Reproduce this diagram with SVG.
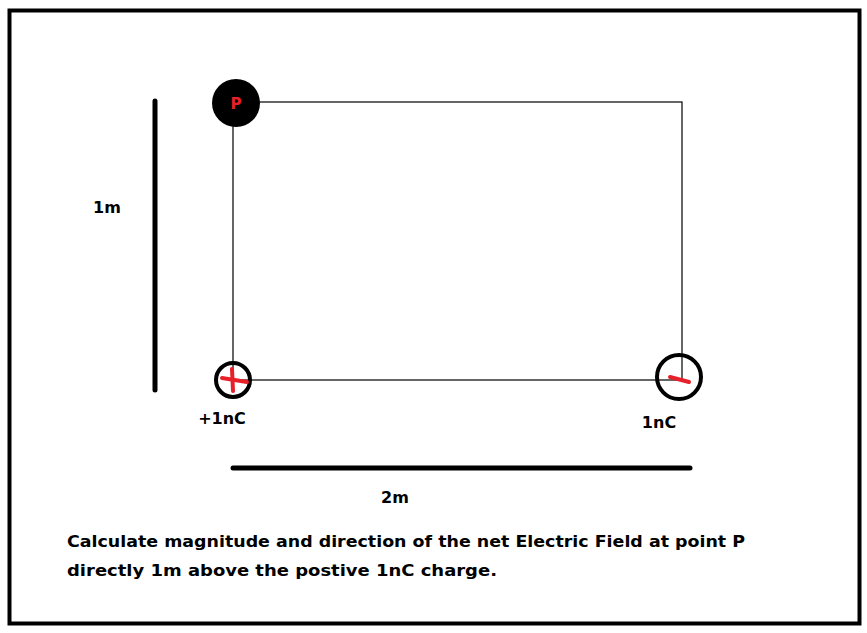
<svg xmlns="http://www.w3.org/2000/svg" width="867" height="633" viewBox="0 0 867 633">
<style>
text{font-family:"Comic Sans MS","DejaVu Sans",sans-serif;font-weight:bold;font-size:16px;fill:#000}
.thin{stroke:#000;stroke-width:1.2;fill:none}
.thick{stroke:#000;stroke-width:5;stroke-linecap:round}
.red{stroke:#e8202a;stroke-width:4;stroke-linecap:round}
</style>
<rect x="0" y="0" width="867" height="633" fill="#fff"/>
<rect x="9.5" y="10.5" width="850" height="613" fill="none" stroke="#000" stroke-width="4"/>
<g id="connectors">
<rect class="thin" x="233" y="102" width="449" height="278"/>
<line class="thick" x1="155" y1="101" x2="155" y2="390"/>
<line class="thick" x1="233" y1="468" x2="690" y2="468"/>
</g>
<g id="P"><circle cx="236" cy="103" r="24" fill="#000"/><text x="236" y="109" text-anchor="middle" style="fill:#e8202a;font-size:15px">P</text></g>
<g id="pos"><circle cx="233" cy="380" r="17" fill="none" stroke="#000" stroke-width="4"/><line class="red" x1="232" y1="369" x2="233" y2="391"/><line class="red" x1="222" y1="378" x2="247" y2="382"/><text x="222" y="424" text-anchor="middle">+1nC</text></g>
<g id="neg"><circle cx="679" cy="377" r="22" fill="none" stroke="#000" stroke-width="4"/><line class="red" x1="670" y1="377" x2="689" y2="382"/><text x="659" y="428" text-anchor="middle">1nC</text></g>
<text x="107" y="213" text-anchor="middle">1m</text>
<text x="395" y="503" text-anchor="middle">2m</text>
<text x="67" y="547" textLength="678" lengthAdjust="spacingAndGlyphs">Calculate magnitude and direction of the net Electric Field at point P</text>
<text x="67" y="576" textLength="430" lengthAdjust="spacingAndGlyphs">directly 1m above the postive 1nC charge.</text>
</svg>
